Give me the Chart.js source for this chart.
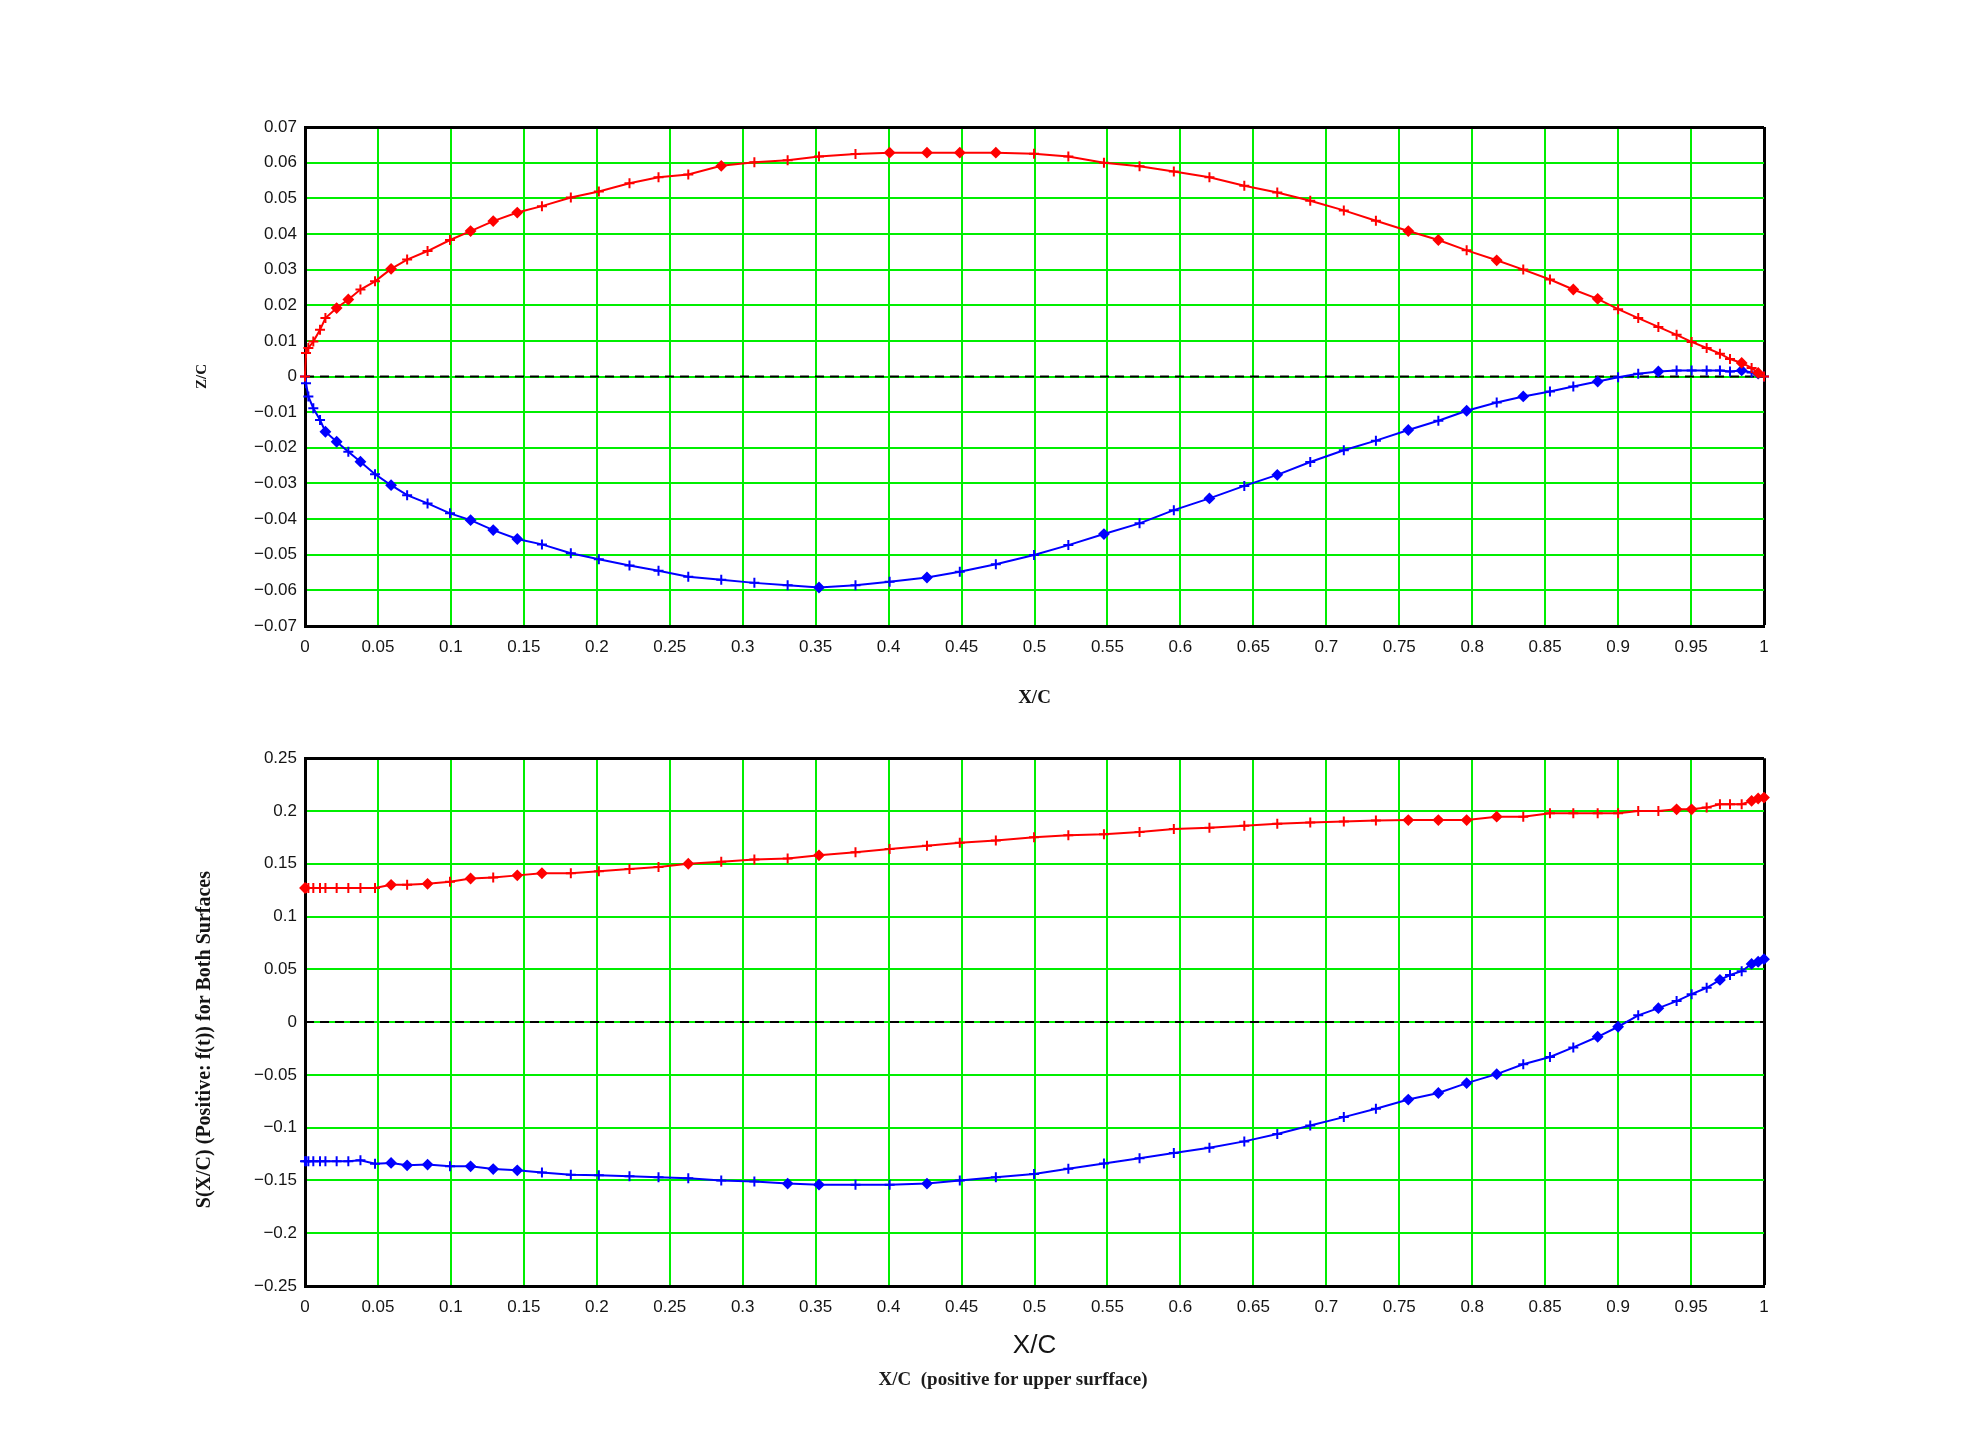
<!DOCTYPE html>
<html>
<head>
<meta charset="utf-8">
<title>Airfoil Z/C and S(X/C)</title>
<script src="https://cdn.jsdelivr.net/npm/chart.js@4.4.1/dist/chart.umd.min.js"></script>
<style>
  html, body { margin: 0; padding: 0; background: #fff; }
  body { width: 1974px; height: 1439px; position: relative; overflow: hidden; }
  canvas { position: absolute; left: 0; }
  #topChart { top: 0; }
  #bottomChart { top: 740px; }
  .note {
    position: absolute; left: 813px; width: 400px; top: 1368px;
    text-align: center; font: bold 19px "Liberation Serif", serif; color: #1c1c1c;
    font-variant-ligatures: none;
  }
</style>
</head>
<body>
<canvas id="topChart" width="1974" height="740"></canvas>
<canvas id="bottomChart" width="1974" height="699"></canvas>
<div class="note">X/C&nbsp;&nbsp;(positive for upper surfface)</div>
<script>
(function () {
    // ─── Tick values ──────────────────────────────────────────────
    const X_TICKS = [0, 0.05, 0.1, 0.15, 0.2, 0.25, 0.3, 0.35, 0.4, 0.45, 0.5,
        0.55, 0.6, 0.65, 0.7, 0.75, 0.8, 0.85, 0.9, 0.95, 1];
    const Z_TICKS = [-0.07, -0.06, -0.05, -0.04, -0.03, -0.02, -0.01, 0,
        0.01, 0.02, 0.03, 0.04, 0.05, 0.06, 0.07];
    const S_TICKS = [-0.25, -0.2, -0.15, -0.1, -0.05, 0, 0.05, 0.1, 0.15, 0.2, 0.25];

    // ─── Data ─────────────────────────────────────────────────────
    const X_C = [0, 0.0007, 0.0023, 0.0057, 0.0103, 0.014, 0.0217, 0.0297, 0.038, 0.048,
        0.059, 0.07, 0.084, 0.0994, 0.1135, 0.129, 0.1455, 0.1624, 0.1822, 0.2014,
        0.2224, 0.2423, 0.2627, 0.2853, 0.308, 0.3308, 0.3523, 0.3773, 0.4007, 0.4263,
        0.4488, 0.4735, 0.4997, 0.5232, 0.5476, 0.572, 0.5955, 0.6199, 0.6438, 0.6664,
        0.689, 0.712, 0.734, 0.7562, 0.7768, 0.7962, 0.8168, 0.835, 0.8533, 0.8693,
        0.886, 0.9, 0.9138, 0.9276, 0.9401, 0.9504, 0.9607, 0.9698, 0.9767, 0.9847,
        0.9915, 0.996, 1];

    const UPPER_Z = [0, 0.0066, 0.008, 0.0098, 0.0131, 0.0164, 0.0192, 0.0216, 0.0244, 0.0267,
        0.0302, 0.0328, 0.0352, 0.0383, 0.0408, 0.0436, 0.046, 0.0478, 0.0502, 0.0519,
        0.0542, 0.0559, 0.0567, 0.0591, 0.0601, 0.0607, 0.0617, 0.0624, 0.0628, 0.0628,
        0.0628, 0.0628, 0.0625, 0.0617, 0.06, 0.059, 0.0575, 0.0559, 0.0535, 0.0516,
        0.0493, 0.0466, 0.0437, 0.0408, 0.0383, 0.0354, 0.0326, 0.03, 0.0272, 0.0244,
        0.0218, 0.0189, 0.0164, 0.0139, 0.0117, 0.0097, 0.008, 0.0064, 0.0049, 0.0038,
        0.0024, 0.001, 0];

    const LOWER_Z = [0, -0.0019, -0.0056, -0.0089, -0.0122, -0.0155, -0.0183, -0.0211, -0.0239, -0.0274,
        -0.0305, -0.0333, -0.0356, -0.0384, -0.0403, -0.0431, -0.0456, -0.0471, -0.0496, -0.0513,
        -0.053, -0.0545, -0.0562, -0.057, -0.0579, -0.0586, -0.0592, -0.0586, -0.0576, -0.0564,
        -0.0548, -0.0527, -0.0501, -0.0473, -0.0442, -0.0412, -0.0375, -0.0342, -0.0307, -0.0276,
        -0.024, -0.0207, -0.018, -0.015, -0.0124, -0.0096, -0.0073, -0.0056, -0.0042, -0.0028,
        -0.0014, -0.0002, 0.0008, 0.0014, 0.0017, 0.0017, 0.0017, 0.0017, 0.0014, 0.0017,
        0.0011, 0.0008, 0];

    const UPPER_S = [0.127, 0.127, 0.127, 0.127, 0.127, 0.127, 0.127, 0.127, 0.127, 0.127,
        0.13, 0.13, 0.131, 0.133, 0.136, 0.137, 0.139, 0.141, 0.141, 0.143,
        0.145, 0.147, 0.15, 0.152, 0.154, 0.155, 0.158, 0.161, 0.164, 0.167,
        0.17, 0.172, 0.175, 0.177, 0.178, 0.18, 0.183, 0.184, 0.186, 0.188,
        0.189, 0.19, 0.191, 0.1914, 0.1914, 0.1914, 0.1946, 0.1946, 0.1978, 0.1978,
        0.1978, 0.1978, 0.2, 0.2, 0.2016, 0.2016, 0.2032, 0.2064, 0.2064, 0.2064,
        0.2096, 0.2118, 0.2127];

    const LOWER_S = [-0.1318, -0.1318, -0.1318, -0.1318, -0.1318, -0.1318, -0.1318, -0.1318, -0.1309, -0.1341,
        -0.1334, -0.1357, -0.135, -0.1366, -0.1366, -0.1392, -0.1404, -0.1424, -0.1446, -0.145,
        -0.146, -0.147, -0.148, -0.15, -0.151, -0.153, -0.154, -0.154, -0.154, -0.153,
        -0.15, -0.147, -0.144, -0.139, -0.134, -0.129, -0.124, -0.119, -0.113, -0.106,
        -0.098, -0.09, -0.082, -0.0734, -0.0672, -0.0578, -0.0493, -0.04, -0.0331, -0.024,
        -0.0139, -0.0044, 0.0064, 0.0132, 0.0199, 0.0265, 0.0325, 0.04, 0.0446, 0.0482,
        0.0551, 0.0572, 0.0596];

    const ZERO_LINE_X = [0, 1];

    // markers that come out heavier in the original plot (overlapping traces)
    const UPPER_Z_HEAVY = [6, 7, 10, 14, 15, 16, 23, 28, 29, 30, 31, 43, 44, 46, 49, 50, 59, 61];
    const LOWER_Z_HEAVY = [5, 6, 8, 10, 14, 15, 16, 26, 29, 34, 37, 39, 43, 45, 47, 50, 53, 59, 61];
    const UPPER_S_HEAVY = [0, 10, 12, 14, 16, 17, 22, 26, 43, 44, 45, 46, 54, 55, 60, 61, 62];
    const LOWER_S_HEAVY = [10, 11, 12, 14, 15, 16, 25, 26, 29, 43, 44, 45, 46, 50, 51, 53, 57, 60, 61, 62];

    const RED = '#ff0000';
    const BLUE = '#0000ff';
    const GRID = '#00ee00';
    const INK = '#141414';
    const TICK_FONT = { family: '"Liberation Sans", Arial, sans-serif', size: 17 };

    // ─── Top: Z/C of both surfaces ────────────────────────────────
    makeChart("topChart", {
        yTicks: Z_TICKS,
        datasets: [series(UPPER_Z, RED, UPPER_Z_HEAVY), series(LOWER_Z, BLUE, LOWER_Z_HEAVY), zeroLine()],
        padding: { left: 193, right: 210, top: 127, bottom: 31 },
        xHeight: 83,
        xTitle: { display: true, text: "X/C", color: INK, padding: { top: 0, bottom: 0 },
            font: { family: '"Liberation Serif", serif', size: 19, weight: 'bold' } },
        yTitle: { display: true, text: "Z/C", color: INK, padding: 0,
            font: { family: '"Liberation Serif", serif', size: 15, weight: 'bold' } },
    });

    // ─── Bottom: S(X/C) of both surfaces ──────────────────────────
    makeChart("bottomChart", {
        yTicks: S_TICKS,
        datasets: [series(UPPER_S, RED, UPPER_S_HEAVY), series(LOWER_S, BLUE, LOWER_S_HEAVY), zeroLine()],
        padding: { left: 193, right: 210, top: 18, bottom: 78 },
        xHeight: 75,
        xTitle: { display: true, text: "X/C", color: INK, padding: { top: 0, bottom: 0 },
            font: { family: '"Liberation Sans", Arial, sans-serif', size: 26 } },
        // trailing spaces nudge the label down, as in the original
        yTitle: { display: true, text: "S(X/C) (Positive: f(t)) for Both Surfaces\u00a0\u00a0\u00a0\u00a0\u00a0\u00a0\u00a0", color: INK, padding: 0,
            font: { family: '"Liberation Serif", serif', size: 20, weight: 'bold' } },
    });

    // ─── Helpers ──────────────────────────────────────────────────
    function series(ys, color, heavy) {
        const big = new Set(heavy);
        return {
            data: X_C.map((x, i) => ({ x, y: ys[i] })),
            borderColor: color,
            backgroundColor: color,
            borderWidth: 2,
            tension: 0,
            pointStyle: (c) => big.has(c.dataIndex) ? 'rectRot' : 'cross',
            pointRadius: (c) => big.has(c.dataIndex) ? 4.5 : 5,
            pointBorderWidth: 2,
            pointHoverRadius: 0,
            clip: 8,
            order: 1,
        };
    }

    function zeroLine() {
        return {
            data: ZERO_LINE_X.map((x) => ({ x, y: 0 })),
            borderColor: '#000',
            borderWidth: 2,
            borderDash: [9, 6],
            pointRadius: 0,
            order: 2,
        };
    }

    function fmtTick(v) {
        return String(+Number(v).toFixed(2)).replace('-', '\u2212');
    }

    function edgeColor(max) {
        return (c) => (c.tick && c.tick.value === max ? '#000' : GRID);
    }

    function edgeWidth(max) {
        return (c) => (c.tick && c.tick.value === max ? 3 : 2);
    }

    function makeChart(id, cfg) {
        const yMin = cfg.yTicks[0];
        const yMax = cfg.yTicks[cfg.yTicks.length - 1];
        return new Chart(document.getElementById(id), {
            type: "line",
            data: { datasets: cfg.datasets },
            options: {
                responsive: false,
                animation: false,
                events: [],
                layout: { padding: cfg.padding },
                plugins: { legend: { display: false }, tooltip: { enabled: false } },
                scales: {
                    x: {
                        type: "linear",
                        min: 0,
                        max: 1,
                        afterBuildTicks: (s) => { s.ticks = X_TICKS.map((v) => ({ value: v })); },
                        afterFit: (s) => { s.height = cfg.xHeight; },
                        grid: { color: edgeColor(1), lineWidth: edgeWidth(1), drawTicks: false },
                        border: { color: '#000', width: 3 },
                        ticks: { padding: 11, color: INK, font: TICK_FONT, callback: fmtTick, maxRotation: 0, autoSkip: false },
                        title: cfg.xTitle,
                    },
                    y: {
                        type: "linear",
                        min: yMin,
                        max: yMax,
                        afterBuildTicks: (s) => { s.ticks = cfg.yTicks.map((v) => ({ value: v })); },
                        afterFit: (s) => { s.width = 305 - cfg.padding.left; },
                        grid: { color: edgeColor(yMax), lineWidth: edgeWidth(yMax), drawTicks: false },
                        border: { color: '#000', width: 3 },
                        ticks: { padding: 8, color: INK, font: TICK_FONT, callback: fmtTick, autoSkip: false },
                        title: cfg.yTitle,
                    },
                },
            },
        });
    }
})();
</script>
</body>
</html>
